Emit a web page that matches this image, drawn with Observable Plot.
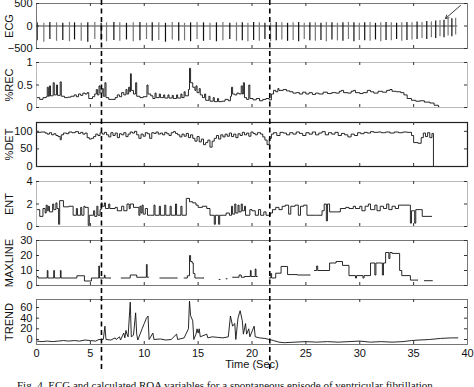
<!DOCTYPE html>
<html><head><meta charset="utf-8">
<script src="https://cdn.jsdelivr.net/npm/d3@7"></script>
<script src="https://cdn.jsdelivr.net/npm/@observablehq/plot@0.6"></script>
<style>
html,body{margin:0;padding:0;background:#fff;overflow:hidden;}
#wrap{position:relative;width:474px;height:387px;}
#wrap svg{position:absolute;left:0;}
.cap{position:absolute;left:17px;top:380px;font-family:"Liberation Serif","Times New Roman",serif;font-size:11px;line-height:11px;white-space:nowrap;color:#111;}
</style></head><body><div id="wrap"></div>
<script>
// ---------- data ----------
const xTicks = [0,5,10,15,20,25,30,35,40];
const eventT = [6.03, 21.65];            // dashed event markers (s)
const captionText = "Fig. 4.  ECG and calculated RQA variables for a spontaneous episode of ventricular fibrillation";

// ECG beats: [time s, spike minimum, spike maximum]
const ecgBeats = [
[0.06,-330,70],[0.68,-360,60],[1.24,-300,80],[1.86,-340,70],[2.44,-320,60],[3.06,-350,80],[3.53,-310,70],[4.15,-340,60],
[4.76,-360,70],[5.41,-300,80],[6.0,-330,60],[6.5,-350,70],[7.18,-320,80],[7.73,-340,70],[8.35,-310,60],[8.98,-350,70],
[9.6,-330,80],[10.21,-300,60],[10.74,-340,70],[11.35,-320,70],[11.97,-360,60],[12.6,-310,80],[13.2,-340,70],[13.74,-330,60],
[14.3,-350,70],[14.9,-300,80],[15.5,-340,70],[16.1,-320,60],[16.7,-350,70],[17.3,-330,80],[17.94,-300,60],[18.56,-340,70],
[19.1,-330,70],[19.62,-350,60],[20.15,-320,80],[20.68,-340,70],[21.2,-300,60],[21.72,-350,70],[22.25,-330,80],[22.77,-310,70],
[23.3,-340,60],[23.82,-320,70],[24.33,-350,80],[24.85,-300,60],[25.37,-330,70],[25.88,-340,70],[26.4,-320,60],[26.9,-350,80],
[27.42,-310,70],[27.93,-330,60],[28.44,-340,70],[28.95,-300,80],[29.46,-350,70],[29.96,-320,60],[30.46,-330,70],[30.96,-340,80],
[31.46,-310,60],[31.95,-350,70],[32.44,-320,80],[32.93,-330,70],[33.42,-300,60],[33.9,-340,70],[34.38,-320,80],[34.85,-310,70],
[35.32,-300,90],[35.78,-280,80],[36.22,-300,100],[36.65,-260,90],[37.05,-280,110],[37.45,-240,120],[37.82,-260,130],[38.2,-220,150],
[38.55,-240,160],[38.9,-200,170]
];
const ecgSpan = [0, 39.1];
const arrowX = [39.35, 37.96];
const arrowY = [456, 167];

// %REC: [time, value]
const recPairs = [
[0,0.22],[0.3,0.18],[0.6,0.22],[0.9,0.24],[1.0,0.45],[1.1,0.25],[1.2,0.48],[1.3,0.26],[1.55,0.55],[1.65,0.28],[1.85,0.5],[1.95,0.27],
[2.2,0.57],[2.3,0.25],[2.6,0.22],[2.9,0.23],[3.2,0.25],[3.5,0.28],[3.7,0.24],[3.9,0.3],[4.1,0.27],[4.3,0.32],[4.5,0.3],[4.7,0.33],
[4.85,0.2],[5.2,0.24],[5.4,0.3],[5.55,0.4],[5.65,0.28],[5.8,0.48],[5.9,0.32],[6.1,0.42],[6.2,0.25],[6.35,0.55],[6.45,0.22],[6.7,0.18],
[7.0,0.18],[7.3,0.22],[7.5,0.28],[7.7,0.24],[7.9,0.33],[8.1,0.28],[8.3,0.4],[8.4,0.3],[8.55,0.45],[8.65,0.35],[8.72,0.75],[8.8,0.38],
[9.0,0.3],[9.2,0.55],[9.3,0.25],[9.6,0.22],[9.9,0.24],[10.25,0.5],[10.35,0.3],[10.6,0.26],[10.8,0.2],[11.0,0.32],[11.1,0.22],[11.4,0.3],
[11.5,0.22],[11.8,0.28],[11.9,0.21],[12.2,0.28],[12.3,0.21],[12.6,0.27],[12.7,0.2],[13.0,0.28],[13.1,0.21],[13.4,0.3],[13.5,0.22],[13.7,0.35],
[13.8,0.26],[14.1,0.4],[14.2,0.87],[14.3,0.55],[14.5,0.45],[14.7,0.38],[14.8,0.48],[14.9,0.33],[15.1,0.42],[15.2,0.28],[15.4,0.22],[15.6,0.3],
[15.7,0.16],[16.0,0.25],[16.1,0.14],[16.4,0.22],[16.5,0.13],[16.8,0.2],[16.9,0.13],[17.2,0.14],[17.5,0.18],[17.8,0.15],[18.0,0.25],[18.1,0.45],
[18.2,0.3],[18.4,0.28],[18.6,0.32],[18.8,0.3],[19.0,0.48],[19.1,0.3],[19.2,0.55],[19.3,0.22],[19.5,0.18],[19.7,0.5],[19.8,0.2],[20.1,0.17],
[20.4,0.2],[20.7,0.15],[21.0,0.18],[21.3,0.2],[21.6,0.17],[21.8,0.3],[22.0,0.38],[22.2,0.35],[22.4,0.42],[22.5,0.38],[22.9,0.4],[23.2,0.37],
[23.5,0.35],[23.8,0.32],[24.1,0.33],[24.4,0.3],[24.7,0.34],[25.0,0.3],[25.3,0.33],[25.6,0.29],[25.9,0.32],[26.2,0.3],[26.6,0.34],[27.0,0.31],
[27.4,0.33],[27.8,0.32],[28.1,0.36],[28.3,0.38],[28.5,0.33],[28.9,0.32],[29.2,0.36],[29.4,0.38],[29.6,0.33],[30.0,0.31],[30.3,0.33],[30.7,0.38],
[31.0,0.35],[31.3,0.32],[31.7,0.36],[32.1,0.34],[32.5,0.38],[32.8,0.4],[33.0,0.36],[33.4,0.35],[33.8,0.33],[34.1,0.28],[34.4,0.2],[34.8,0.16],
[35.2,0.14],[35.6,0.15],[36.0,0.12],[36.5,0.1],[36.9,0.05],[37.3,0.01],[37.4,0.0]
];

// %DET: [time, value]
const detPairs = [
[0,97],[0.4,98],[0.8,95],[1.0,92],[1.2,96],[1.4,90],[1.6,93],[1.8,88],[2.0,85],[2.2,76],[2.3,90],[2.5,95],[2.8,93],[3.0,98],[3.3,96],
[3.6,99],[3.9,94],[4.1,97],[4.3,92],[4.5,95],[4.7,82],[4.9,78],[5.1,80],[5.3,85],[5.5,92],[5.7,88],[5.9,96],[6.1,92],[6.3,97],[6.5,90],
[6.7,84],[6.9,96],[7.1,88],[7.3,95],[7.5,82],[7.7,93],[7.9,90],[8.1,96],[8.3,85],[8.5,92],[8.7,98],[8.9,95],[9.1,100],[9.3,90],[9.5,80],
[9.7,92],[9.9,86],[10.1,96],[10.3,93],[10.5,80],[10.7,96],[10.9,94],[11.1,98],[11.3,92],[11.5,95],[11.7,90],[11.9,97],[12.1,93],[12.3,88],
[12.5,96],[12.7,99],[12.9,94],[13.1,90],[13.3,84],[13.5,92],[13.7,86],[13.9,94],[14.1,82],[14.3,90],[14.5,80],[14.7,72],[14.9,85],[15.1,70],
[15.3,78],[15.5,62],[15.7,68],[15.9,75],[16.1,55],[16.3,72],[16.5,80],[16.7,88],[16.9,78],[17.1,90],[17.3,84],[17.5,92],[17.7,86],[17.9,95],
[18.1,85],[18.3,92],[18.5,82],[18.7,93],[18.9,88],[19.1,97],[19.3,90],[19.5,95],[19.7,86],[19.9,98],[20.1,94],[20.3,90],[20.5,96],[20.8,92],
[21.0,84],[21.2,75],[21.4,62],[21.6,80],[21.8,92],[22.0,96],[22.3,88],[22.6,97],[22.9,95],[23.2,90],[23.5,96],[23.8,92],[24.1,98],[24.4,94],
[24.7,88],[25.0,96],[25.3,92],[25.6,98],[25.9,90],[26.2,95],[26.5,99],[26.8,90],[27.1,96],[27.4,92],[27.7,97],[28.0,88],[28.3,94],[28.6,90],
[28.9,84],[29.2,92],[29.5,88],[29.8,96],[30.1,93],[30.4,97],[30.7,95],[31.0,99],[31.3,97],[31.7,98],[32.0,96],[32.4,98],[32.8,95],[33.2,98],
[33.6,96],[34.0,98],[34.4,97],[34.8,88],[35.0,68],[35.4,66],[35.7,82],[35.9,95],[36.1,85],[36.3,96],[36.5,82],[36.7,94],[36.84,0]
];

// ENT: [time, value]
const entPairs = [
[0,1.5],[0.3,0.9],[0.6,1.6],[0.8,1.2],[0.9,1.9],[1.0,1.4],[1.1,1.8],[1.2,1.3],[1.5,2.0],[1.6,1.5],[1.8,2.1],[1.9,1.6],[2.05,0.2],[2.15,2.3],
[2.5,1.75],[3.0,1.8],[3.4,1.0],[3.7,1.6],[3.8,1.0],[4.1,1.7],[4.2,1.0],[4.4,1.8],[4.5,1.7],[4.8,0.1],[4.9,1.0],[5.3,1.4],[5.4,0.9],[5.6,1.8],
[5.7,1.0],[5.9,1.5],[6.0,2.1],[6.1,1.8],[6.3,2.1],[6.4,1.6],[6.7,2.0],[6.8,1.6],[7.3,1.7],[7.5,1.4],[7.9,1.8],[8.1,1.4],[8.4,2.0],[8.6,1.6],
[8.7,2.0],[9.0,1.7],[9.5,1.0],[9.6,1.8],[9.7,1.2],[9.8,1.9],[9.9,1.1],[10.1,1.6],[10.3,1.0],[10.6,1.0],[10.9,1.9],[11.0,1.0],[11.4,1.8],
[11.5,1.0],[11.9,1.9],[12.0,1.0],[12.4,1.8],[12.5,1.0],[12.9,2.0],[13.0,1.0],[13.4,1.8],[13.5,1.0],[13.9,2.5],[14.2,2.2],[14.5,2.1],[14.8,1.9],
[15.0,1.7],[15.4,1.8],[15.8,1.6],[16.1,1.0],[16.5,0.2],[16.6,1.0],[16.9,0.2],[17.0,1.0],[17.6,1.2],[17.9,1.0],[18.1,1.8],[18.2,1.1],[18.4,2.0],
[18.5,1.2],[18.7,1.9],[18.8,1.3],[19.0,2.0],[19.1,1.4],[19.3,1.8],[19.4,1.0],[19.8,1.5],[20.0,1.4],[20.3,1.0],[20.6,1.5],[20.8,1.0],[21.1,1.3],
[21.3,1.0],[21.7,1.2],[21.9,1.5],[22.2,1.7],[22.5,1.5],[22.8,1.8],[23.1,1.9],[23.4,1.1],[23.6,1.8],[24.0,1.9],[24.3,1.0],[24.5,1.8],[24.8,1.9],
[25.1,1.0],[26.0,1.0],[26.5,1.4],[26.7,2.0],[26.9,0.5],[27.0,2.0],[27.2,1.3],[27.8,1.3],[28.2,1.6],[28.7,1.7],[29.0,1.6],[29.4,1.8],[29.6,1.6],
[30.0,1.8],[30.2,1.4],[30.5,1.8],[30.8,2.0],[31.0,1.5],[31.4,1.9],[31.6,1.4],[31.9,1.8],[32.2,1.6],[32.5,2.0],[32.7,1.5],[33.0,1.8],[33.3,1.6],
[33.6,1.9],[34.6,1.9],[34.7,0.3],[34.8,1.4],[35.1,0.3],[35.2,1.5],[35.6,1.5],[35.8,0.9],[36.7,0.9]
];

// MAXLINE: [time, value]; null = no value
const maxPairs = [
[0,6],[0.15,5],[1.0,10],[1.06,5],[1.6,10],[1.66,5],[2.22,10],[2.28,5],[3.75,6.5],[4.45,3],[5.1,5],[5.78,13],[5.84,5],[6.3,7],[6.36,5],[6.9,5],[6.9,null],
[7.86,5],[8.7,7],[9.3,5.5],[10.2,14],[10.27,5.5],[10.4,5.5],[10.4,null],
[11.45,5],[13.07,5],[13.07,null],
[13.7,5],[14.0,6.5],[14.2,20],[14.3,16],[14.45,15],[14.55,8],[14.7,5],[15.54,5],[15.54,null],
[16.95,4],[17.05,4],[17.05,null],[17.6,4.5],[17.7,4.5],[17.7,null],
[18.2,5.5],[18.8,7],[19.0,5.5],[19.3,6],[19.85,10],[19.92,6],[20.3,11],[20.37,6],[20.5,6],[20.5,null],
[21.6,5],[21.75,8],[21.82,5],[22.2,8.2],[22.7,12.7],[23.3,7.3],[24.2,7],[25.4,7],[25.4,null],
[25.8,10],[26.0,13],[26.1,10],[27.2,15],[27.8,16],[28.4,13.4],[29.0,6.6],[29.6,5],[29.7,6.6],[30.3,5],[30.4,6.6],[31.0,15],[31.4,7],[31.5,15],
[31.8,15],[32.1,7],[32.2,15],[32.4,22],[32.7,18],[32.8,22],[33.0,21.4],[33.7,10],[33.9,6.6],[34.7,3.6],[35.4,3.6],[35.4,null],[36.0,3.2],[36.75,3.2]
];

// TREND: [time, value]
const trendPairs = [
[0,-3],[0.5,-4],[1.0,-3],[1.5,-4],[2.0,-3],[2.5,-2],[3.0,-3],[3.5,-2],[4.0,-3],[4.5,-1],[5.0,-2],[5.5,-3],[5.8,0],[6.2,0],[6.35,25],[6.45,0],
[6.9,-1],[7.3,3],[7.4,0],[7.7,5],[7.8,-1],[8.0,8],[8.1,12],[8.2,3],[8.3,17],[8.4,10],[8.5,5],[8.7,70],[8.8,5],[9.0,8],[9.2,50],[9.3,10],
[9.4,-1],[9.8,20],[10.0,30],[10.2,40],[10.35,44],[10.45,0],[10.8,12],[10.9,0],[11.5,1],[12.0,-1],[12.5,0],[13.0,10],[13.1,0],[13.7,3],
[14.1,20],[14.2,72],[14.3,45],[14.5,35],[14.6,0],[14.8,10],[14.9,20],[15.0,12],[15.1,20],[15.2,5],[15.8,10],[15.9,3],[16.3,5],[16.8,4],
[17.3,3],[17.8,5],[18.0,44],[18.2,25],[18.4,30],[18.5,0],[18.7,40],[18.9,54],[19.1,35],[19.2,10],[19.4,30],[19.5,10],[19.7,20],[19.8,5],
[20.2,25],[20.3,5],[20.7,3],[21.2,2],[21.6,0],[22.0,-2],[22.5,-5],[23.0,-6],[24.0,-5],[25.0,-4],[26.0,-5],[27.0,-4],[28.0,-5],[29.0,-4],
[30.0,-3],[31.0,-5],[32.0,-4],[33.0,-5],[34.0,-4],[34.8,-2],[35.5,-1],[36.5,0],[37.5,2],[38.5,3],[39.1,3]
];

// ---------- drawing ----------
const W = 474, ML = 36, MR = 7;
const FONT = "'Liberation Sans', Arial, Helvetica, sans-serif";
const wrap = document.getElementById("wrap");
const innerX = xTicks.slice(1, -1);

function panel(o) {
  const fw = W - ML - MR, fh = o.height - o.mt - o.mb;
  const marks = [
    ...o.marks,
    Plot.frame({stroke: o.frame, strokeWidth: o.frameWidth || 1}),
    Plot.ruleX(innerX, {stroke: "#333", insetTop: fh - 3}),
    Plot.ruleX(innerX, {stroke: "#333", insetBottom: fh - 3}),
    Plot.ruleY(o.ticks, {stroke: "#333", insetRight: fw - 3}),
    Plot.ruleY(o.ticks, {stroke: "#333", insetLeft: fw - 3}),
    Plot.axisY(o.ticks, {tickSize: 0, tickPadding: 4, fontSize: 11, label: null, tickFormat: o.fmt}),
    Plot.ruleX(eventT, {stroke: "#000", strokeWidth: 1.6, strokeDasharray: "5,3.5", insetTop: -o.mt, insetBottom: -o.mb}),
    Plot.text([o.label], {frameAnchor: "left", textAnchor: "middle", lineAnchor: "middle", rotate: -90, dx: -27, fontSize: 11, fill: "#111"})
  ];
  const xOpt = {domain: [0, 40]};
  if (o.xAxis) {
    marks.push(Plot.axisX(xTicks, {tickSize: 0, tickPadding: 5, fontSize: 11, label: null}));
    marks.push(Plot.text(["Time (Sec)"], {frameAnchor: "bottom", textAnchor: "middle", lineAnchor: "middle", dy: 20, fontSize: 11, fill: "#111"}));
  } else {
    xOpt.axis = null;
  }
  const svg = Plot.plot({
    width: W, height: o.height,
    marginLeft: ML, marginRight: MR, marginTop: o.mt, marginBottom: o.mb,
    x: xOpt,
    y: {domain: o.domain},
    style: {background: "none", overflow: "visible", fontFamily: FONT, fontSize: "11px", color: "#111"},
    marks
  });
  svg.style.top = o.top + "px";
  wrap.append(svg);
}

const stepLine = (pairs) => Plot.line(pairs, {x: d => d[0], y: d => d[1], curve: "step-after", stroke: "#111", strokeWidth: 0.9});

// ECG
panel({
  top: 0, height: 59, mt: 3, mb: 11, domain: [-500, 500], ticks: [-500, 0, 500], label: "ECG", frame: "#777",
  marks: [
    Plot.ruleY([0], {x1: ecgSpan[0], x2: ecgSpan[1], stroke: "#444", strokeWidth: 1}),
    Plot.ruleX(ecgBeats, {x: d => d[0], y1: d => d[2], y2: d => d[1],
      stroke: (d, i) => (i % 2 ? "#777" : "#111"), strokeWidth: 1.2}),
    Plot.arrow([0], {x1: () => arrowX[0], y1: () => arrowY[0], x2: () => arrowX[1], y2: () => arrowY[1],
      stroke: "#222", strokeWidth: 0.9, headLength: 6})
  ]
});
// %REC
panel({
  top: 59, height: 60, mt: 3, mb: 12, domain: [0, 1], ticks: [0, 0.5, 1], label: "%REC", frame: "#bbb",
  fmt: d => String(d), marks: [stepLine(recPairs)]
});
// %DET
panel({
  top: 119, height: 59, mt: 3, mb: 12, domain: [0, 125], ticks: [0, 50, 100], label: "%DET", frame: "#222", frameWidth: 1.2,
  marks: [stepLine(detPairs)]
});
// ENT
panel({
  top: 178, height: 59, mt: 3, mb: 11, domain: [0, 4], ticks: [0, 2, 4], label: "ENT", frame: "#bbb",
  marks: [stepLine(entPairs)]
});
// MAXLINE
panel({
  top: 237, height: 59, mt: 3, mb: 11, domain: [0, 30], ticks: [0, 10, 20, 30], label: "MAXLINE", frame: "#777",
  marks: [stepLine(maxPairs)]
});
// TREND
panel({
  top: 296, height: 74, mt: 3, mb: 26, domain: [-9.4, 75], ticks: [0, 20, 40, 60], label: "TREND", frame: "#777", xAxis: true,
  marks: [Plot.line(trendPairs, {x: d => d[0], y: d => d[1], stroke: "#111", strokeWidth: 0.9})]
});

const cap = document.createElement("div");
cap.className = "cap";
cap.textContent = captionText;
wrap.append(cap);
</script>
</body></html>
